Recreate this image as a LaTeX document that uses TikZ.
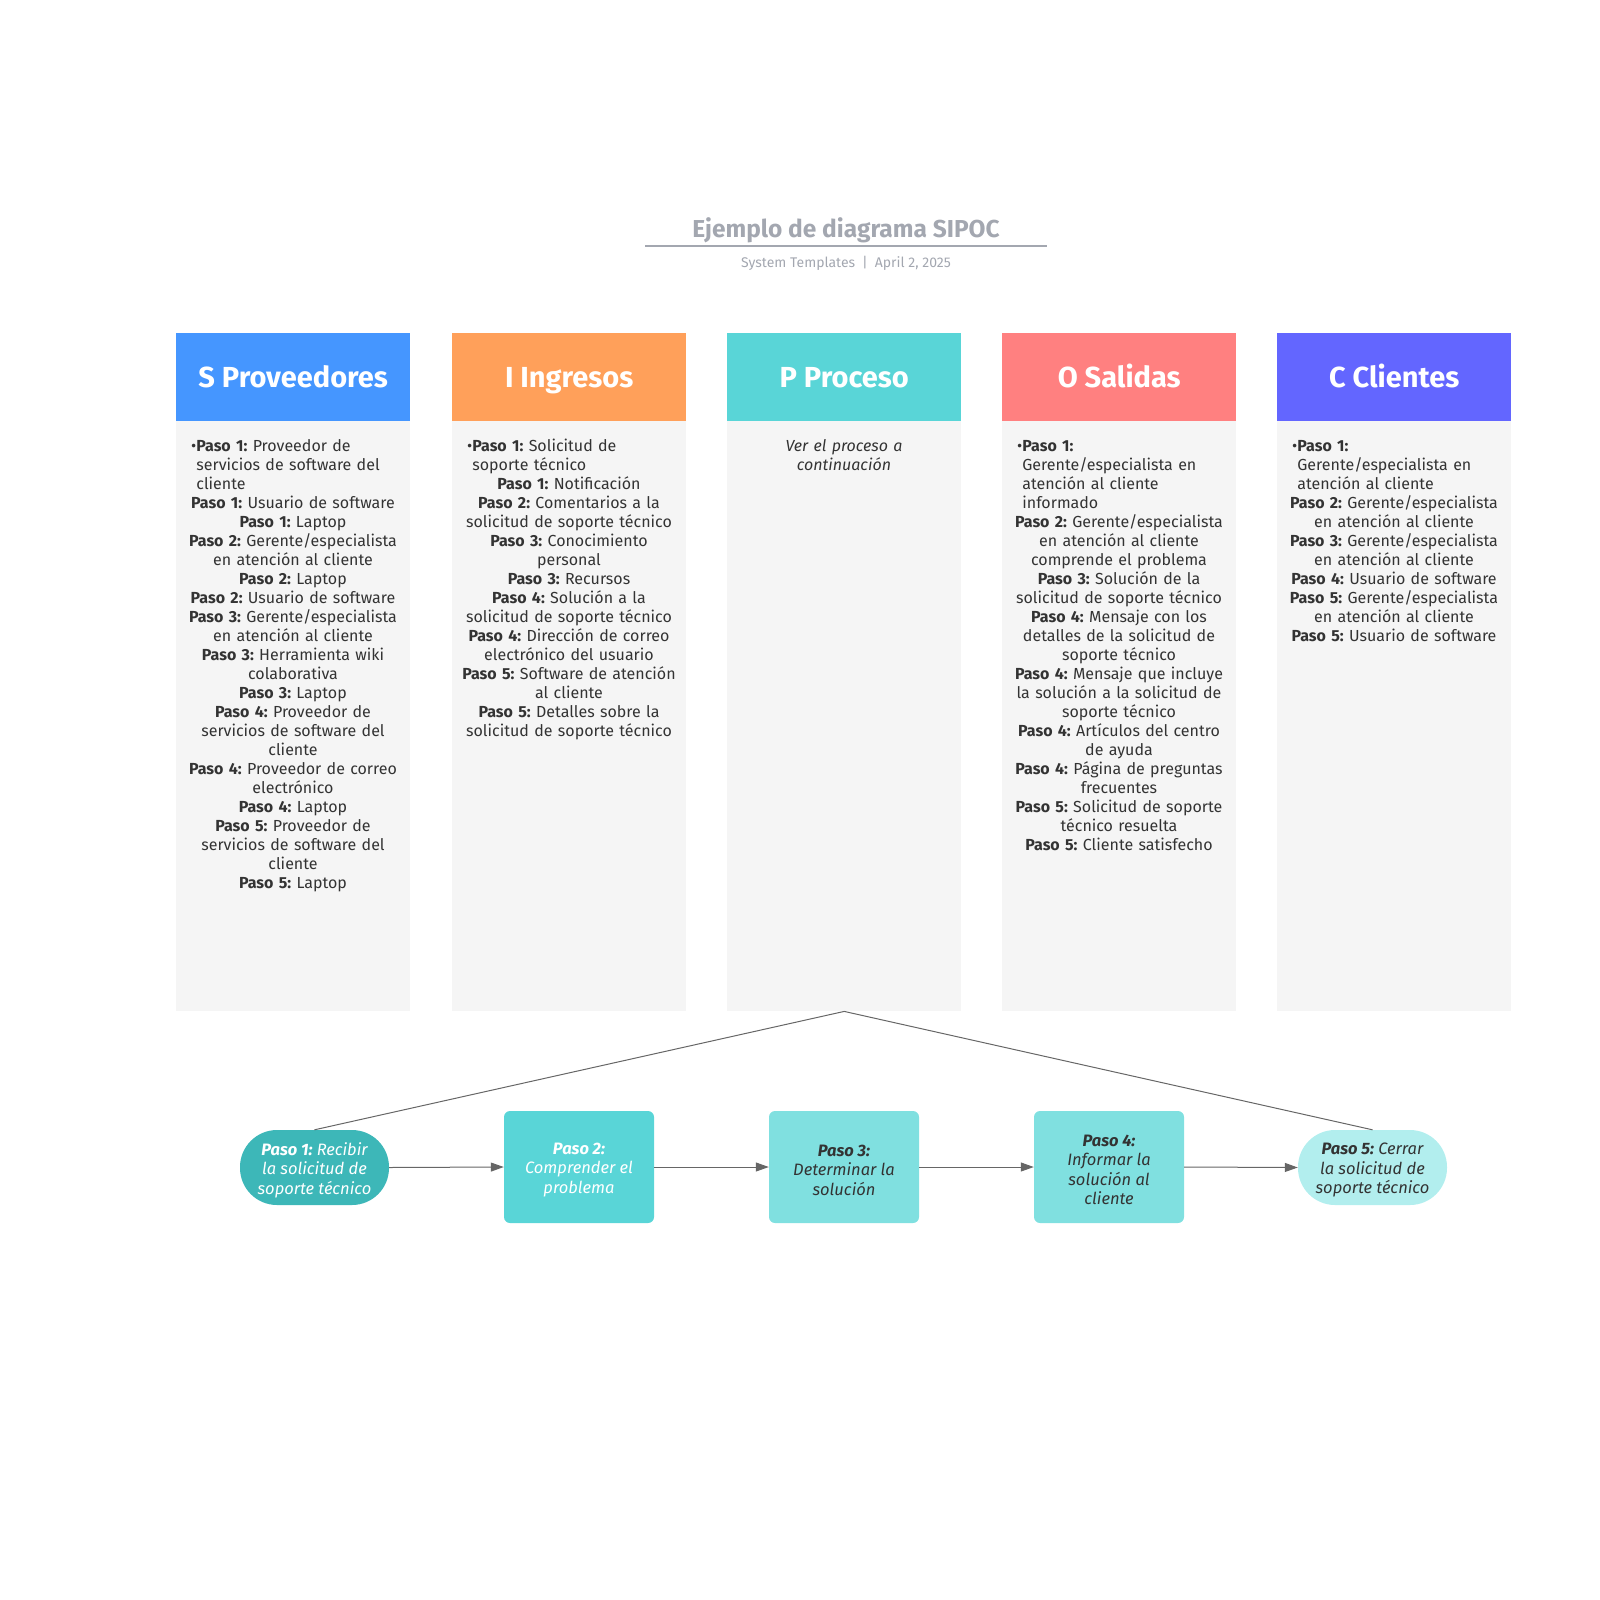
\documentclass[tikz,border=0pt]{standalone}
\usepackage{fontspec}
\setmainfont{Fira Sans}
\usetikzlibrary{arrows.meta}
\frenchspacing
\definecolor{cS}{HTML}{4596FF}
\definecolor{cI}{HTML}{FFA05A}
\definecolor{cP}{HTML}{59D5D7}
\definecolor{cO}{HTML}{FF8080}
\definecolor{cC}{HTML}{6366FF}
\definecolor{bodybg}{HTML}{F5F5F5}
\definecolor{txt}{HTML}{333333}
\definecolor{ttl}{HTML}{A3A7B0}
\definecolor{st1}{HTML}{3DB7B8}
\definecolor{st2}{HTML}{59D5D7}
\definecolor{st3}{HTML}{80E0E0}
\definecolor{st5}{HTML}{B2EEEE}
\definecolor{lin}{HTML}{666666}
\newcommand\pp[1]{\textbf{Paso #1:}}
\newcommand\bi{\phantom{•}}
\tikzset{
  head/.style={fill=#1, minimum width=234pt, minimum height=88pt, anchor=north west, inner sep=0pt,
    text=white, text height=26pt, text depth=6pt, font=\fontsize{29}{33}\selectfont\bfseries},
  colbody/.style={fill=bodybg, minimum width=234pt, minimum height=590pt, anchor=north west, inner sep=0pt},
  bultext/.style={anchor=base west, inner sep=0pt, align=left, text width=225pt, text=txt,
    font=\fontsize{16}{19}\selectfont},
  centext/.style={anchor=base, inner sep=0pt, align=center, text width=250pt, text=txt,
    font=\fontsize{16}{19}\selectfont},
  pill/.style={fill=#1, minimum width=149pt, minimum height=75pt, rounded corners=37pt, inner sep=0pt},
  stepbox/.style={fill=#1, minimum width=150pt, minimum height=112pt, rounded corners=6pt, inner sep=0pt},
  steptext/.style={inner sep=0pt, align=center, font=\fontsize{16.5}{19.5}\selectfont\itshape},
  arr/.style={draw=lin, line width=1pt, -{Triangle[length=13pt,width=9pt]}},
  conn/.style={draw=lin, line width=1pt},
}
\begin{document}
\begin{tikzpicture}[x=1pt,y=-1pt]
\useasboundingbox (0,0) rectangle (1600,1600);
% title
\node[text=ttl, font=\fontsize{24.5}{28}\selectfont\bfseries, inner sep=0pt] (title) at (846,230) {Ejemplo de diagrama SIPOC};
\coordinate (ul1) at (645,246);
\coordinate (ul2) at (1047,246);
\draw[draw=ttl, line width=2pt] (ul1) -- (ul2);
\node[text=ttl, font=\fontsize{14}{16}\selectfont, inner sep=0pt] (sub) at (846,263) {System Templates\enspace|\enspace April 2, 2025};

% column bodies
\node[colbody] (sbody) at (176,421) {};
\node[colbody] (ibody) at (452,421) {};
\node[colbody] (pbody) at (727,421) {};
\node[colbody] (obody) at (1002,421) {};
\node[colbody] (cbody) at (1277,421) {};
% headers
\node[head=cS] (sh) at (176,333) {S Proveedores};
\node[head=cI] (ih) at (452,333) {I Ingresos};
\node[head=cP] (ph) at (727,333) {P Proceso};
\node[head=cO] (oh) at (1002,333) {O Salidas};
\node[head=cC] (ch) at (1277,333) {C Clientes};

% S column
\node[bultext] (s1t) at (191,451) {•\pp{1} Proveedor de\\\bi servicios de software del\\\bi cliente};
\node[centext] (s2t) at (293,508) {\pp{1} Usuario de software\\
\pp{1} Laptop\\
\pp{2} Gerente/especialista\\
en atención al cliente\\
\pp{2} Laptop\\
\pp{2} Usuario de software\\
\pp{3} Gerente/especialista\\
en atención al cliente\\
\pp{3} Herramienta wiki\\
colaborativa\\
\pp{3} Laptop\\
\pp{4} Proveedor de\\
servicios de software del\\
cliente\\
\pp{4} Proveedor de correo\\
electrónico\\
\pp{4} Laptop\\
\pp{5} Proveedor de\\
servicios de software del\\
cliente\\
\pp{5} Laptop};

% I column
\node[bultext] (i1t) at (467,451) {•\pp{1} Solicitud de\\\bi soporte técnico};
\node[centext] (i2t) at (569,489) {\pp{1} Notificación\\
\pp{2} Comentarios a la\\
solicitud de soporte técnico\\
\pp{3} Conocimiento\\
personal\\
\pp{3} Recursos\\
\pp{4} Solución a la\\
solicitud de soporte técnico\\
\pp{4} Dirección de correo\\
electrónico del usuario\\
\pp{5} Software de atención\\
al cliente\\
\pp{5} Detalles sobre la\\
solicitud de soporte técnico};

% P column
\node[centext, font=\fontsize{16}{19}\selectfont\itshape] (p1t) at (844,451) {Ver el proceso a\\continuación};

% O column
\node[bultext] (o1t) at (1017,451) {•\pp{1}\\\bi Gerente/especialista en\\\bi atención al cliente\\\bi informado};
\node[centext] (o2t) at (1119,527) {\pp{2} Gerente/especialista\\
en atención al cliente\\
comprende el problema\\
\pp{3} Solución de la\\
solicitud de soporte técnico\\
\pp{4} Mensaje con los\\
detalles de la solicitud de\\
soporte técnico\\
\pp{4} Mensaje que incluye\\
la solución a la solicitud de\\
soporte técnico\\
\pp{4} Artículos del centro\\
de ayuda\\
\pp{4} Página de preguntas\\
frecuentes\\
\pp{5} Solicitud de soporte\\
técnico resuelta\\
\pp{5} Cliente satisfecho};

% C column
\node[bultext] (c1t) at (1292,451) {•\pp{1}\\\bi Gerente/especialista en\\\bi atención al cliente};
\node[centext] (c2t) at (1394,508) {\pp{2} Gerente/especialista\\
en atención al cliente\\
\pp{3} Gerente/especialista\\
en atención al cliente\\
\pp{4} Usuario de software\\
\pp{5} Gerente/especialista\\
en atención al cliente\\
\pp{5} Usuario de software};

% process steps
\node[pill=st1] (st1) at (314.5,1167.5) {};
\node[stepbox=st2] (st2) at (579,1167) {};
\node[stepbox=st3] (st3) at (844,1167) {};
\node[stepbox=st3] (st4) at (1109,1167) {};
\node[pill=st5] (st5) at (1372.5,1167.5) {};
\node[steptext, text=white] (st1t) at (314.5,1170) {\textbf{Paso 1:} Recibir\\la solicitud de\\soporte técnico};
\node[steptext, text=white] (st2t) at (579,1170) {\textbf{Paso 2:}\\Comprender el\\problema};
\node[steptext, text=txt] (st3t) at (844,1170) {\textbf{Paso 3:}\\Determinar la\\solución};
\node[steptext, text=txt] (st4t) at (1109,1170) {\textbf{Paso 4:}\\Informar la\\solución al\\cliente};
\node[steptext, text=txt] (st5t) at (1372.5,1170) {\textbf{Paso 5:} Cerrar\\la solicitud de\\soporte técnico};

\draw[conn] (pbody.south) -- (st1.north);
\draw[conn] (pbody.south) -- (st5.north);
\draw[arr] (st1.east) -- (st2.west);
\draw[arr] (st2.east) -- (st3.west);
\draw[arr] (st3.east) -- (st4.west);
\draw[arr] (st4.east) -- (st5.west);
\end{tikzpicture}
\end{document}
